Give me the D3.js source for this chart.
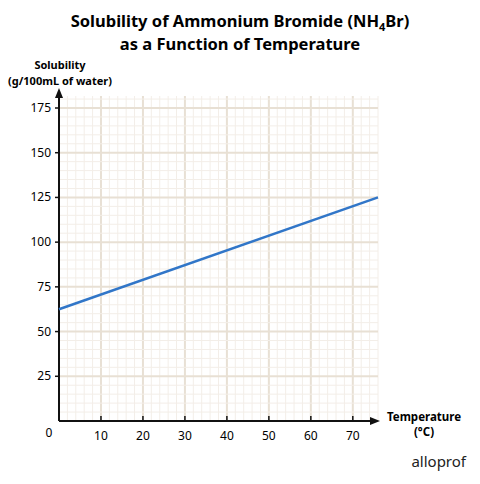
<!DOCTYPE html><html><head><script src="https://cdn.jsdelivr.net/npm/d3@7"></script>
<style>body{margin:0;background:#fff}text{font-family:"Noto Sans",sans-serif}</style></head><body><svg id="c" width="480" height="484"></svg>
<script>
const temps=[0,76];
const solubility=[62.5,125];
const xTicks=[10,20,30,40,50,60,70];
const yTicks=[25,50,75,100,125,150,175];
const svg=d3.select("#c");
const x=d3.scaleLinear().domain([0,76]).range([59,378]);
const y=d3.scaleLinear().domain([0,175]).range([421,108]);
const g=svg.append("g");
for(let v=2;v<=76;v+=2){g.append("line").attr("x1",x(v)).attr("x2",x(v)).attr("y1",y(0)).attr("y2",96).attr("stroke",v%10==0?"#e8e0d4":"#f3eee8").attr("stroke-width",v%10==0?2:1);}
for(let v=5;v<=180;v+=5){if(y(v)<96)continue;g.append("line").attr("x1",x(0)).attr("x2",x(76)).attr("y1",y(v)).attr("y2",y(v)).attr("stroke",v%25==0?"#e8e0d4":"#f3eee8").attr("stroke-width",v%25==0?2:1);}
svg.append("line").attr("x1",x(0)).attr("x2",x(0)).attr("y1",y(0)).attr("y2",96).attr("stroke","#111").attr("stroke-width",2);
svg.append("path").attr("d",`M${x(0)-4},98L${x(0)},88L${x(0)+4},98Z`).attr("fill","#111");
svg.append("line").attr("x1",x(0)).attr("x2",372).attr("y1",y(0)).attr("y2",y(0)).attr("stroke","#111").attr("stroke-width",2);
svg.append("path").attr("d",`M370,${y(0)-4}L380,${y(0)}L370,${y(0)+4}Z`).attr("fill","#111");
xTicks.forEach(t=>{svg.append("line").attr("x1",x(t)).attr("x2",x(t)).attr("y1",y(0)).attr("y2",y(0)-5).attr("stroke","#111").attr("stroke-width",1.5);
svg.append("text").attr("x",x(t)).attr("y",440).attr("text-anchor","middle").attr("font-size",12).text(t);});
yTicks.forEach(t=>{svg.append("line").attr("x1",x(0)-4).attr("x2",x(0)).attr("y1",y(t)).attr("y2",y(t)).attr("stroke","#111").attr("stroke-width",1.5);
svg.append("text").attr("x",x(0)-8).attr("y",y(t)+4).attr("text-anchor","end").attr("font-size",12).text(t);});
svg.append("text").attr("x",49).attr("y",437).attr("text-anchor","middle").attr("font-size",12).text("0");
svg.append("line").attr("x1",x(temps[0])).attr("y1",y(solubility[0])).attr("x2",x(temps[1])).attr("y2",y(solubility[1])).attr("stroke","#3176c8").attr("stroke-width",2.5);
svg.append("text").attr("x",424).attr("y",421).attr("text-anchor","middle").attr("font-size",11.5).attr("font-weight","bold").text("Temperature");
svg.append("text").attr("x",424).attr("y",436).attr("text-anchor","middle").attr("font-size",11.5).attr("font-weight","bold").text("(°C)");
svg.append("text").attr("x",60).attr("y",69).attr("text-anchor","middle").attr("font-size",11).attr("font-weight","bold").text("Solubility");
svg.append("text").attr("x",60).attr("y",85).attr("text-anchor","middle").attr("font-size",11).attr("font-weight","bold").text("(g/100mL of water)");
const t1=svg.append("text").attr("x",240).attr("y",27).attr("text-anchor","middle").attr("font-size",16.5).attr("font-weight","bold");
t1.append("tspan").text("Solubility of Ammonium Bromide (NH");t1.append("tspan").attr("font-size",11).attr("dy",4).text("4");t1.append("tspan").attr("dy",-4).text("Br)");
svg.append("text").attr("x",240).attr("y",50).attr("text-anchor","middle").attr("font-size",16.5).attr("font-weight","bold").text("as a Function of Temperature");
svg.append("text").attr("x",466).attr("y",467).attr("text-anchor","end").attr("font-size",15).attr("fill","#222").text("alloprof");
</script></body></html>
